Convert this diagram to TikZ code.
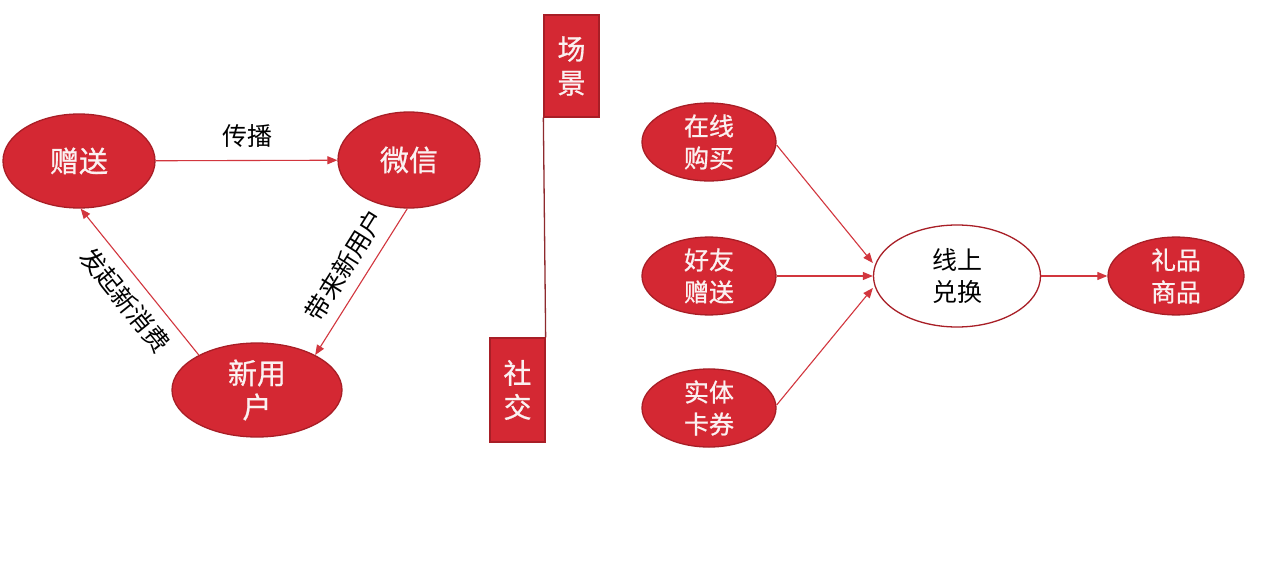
\documentclass[tikz,border=0pt]{standalone}
\usepackage{fontspec}
\setmainfont{Noto Sans CJK SC}
\newfontfamily\cjkm[FakeBold=0.8]{Noto Sans CJK SC}
\usetikzlibrary{shapes.geometric,arrows.meta}
\definecolor{rfill}{HTML}{D42833}
\definecolor{rdraw}{HTML}{A81E26}
\definecolor{rline}{HTML}{D2363E}
\definecolor{vline}{HTML}{8E2A2E}
\definecolor{wtext}{HTML}{FBF1F1}
\begin{document}
\begin{tikzpicture}[x=1pt,y=-1pt,
  redell/.style={ellipse, fill=rfill, draw=rdraw, line width=1.3pt, inner sep=0pt,
    text=wtext, align=center},
  whiteell/.style={ellipse, fill=white, draw=rdraw, line width=1.3pt, inner sep=0pt,
    text=black, align=center},
  bigtxt/.style={font=\cjkm\fontsize{29}{34}\selectfont},
  smtxt/.style={font=\cjkm\fontsize{25}{32}\selectfont},
  redbox/.style={rectangle, fill=rfill, draw=rdraw, line width=1.3pt, inner sep=0pt,
    text=wtext, align=center, font=\cjkm\fontsize{28}{34}\selectfont},
  conn/.style={draw=rline, line width=1.1pt, -{Triangle[length=10pt,width=8pt]}},
  lbl/.style={font=\fontsize{25}{28}\selectfont, text=black, inner sep=0pt}]
\useasboundingbox (0,0) rectangle (1280,588);
\fill[white] (0,0) rectangle (1280,588);

% left cycle
\node[redell, bigtxt, minimum width=152pt, minimum height=94pt] (zs) at (79,161) {赠送};
\node[redell, bigtxt, minimum width=142pt, minimum height=96pt] (wx) at (409,160) {微信};
\node[redell, bigtxt, minimum width=170pt, minimum height=94pt] (xyh) at (257,390) {新用\\户};

\draw[conn] (zs) -- (wx);
\draw[conn] (wx.-92) -- (xyh.31);
\draw[conn] (xyh.149) -- (zs.-88);

\node[lbl] (lcb) at (247,136) {传播};
\node[lbl, rotate=-51] (lfq) at (125,300) {发起新消费};
\node[lbl, rotate=58] (ldl) at (345,265) {带来新用户};

% middle
\node[redbox, minimum width=55pt, minimum height=102pt] (cj) at (571.5,66) {场\\景};
\node[redbox, minimum width=55pt, minimum height=104pt] (sj) at (517.5,390) {社\\交};
\draw[vline, line width=1.3pt] (cj.south west) -- (sj.north east);

% right
\node[redell, smtxt, minimum width=134pt, minimum height=71pt] (zx) at (709,142) {在线\\购买};
\node[redell, smtxt, minimum width=134pt, minimum height=71pt] (hy) at (709,276) {好友\\赠送};
\node[redell, smtxt, minimum width=134pt, minimum height=71pt] (st) at (709,408) {实体\\卡券};
\node[whiteell, font=\fontsize{25}{32}\selectfont, minimum width=167pt, minimum height=102pt] (xs) at (957,276) {线上\\兑换};
\node[redell, smtxt, minimum width=136pt, minimum height=76pt] (lp) at (1176,276) {礼品\\商品};

\draw[conn] (zx.east) ++(0,3) coordinate (zxo) -- (xs.west |- 0,263);
\draw[conn] (hy.east) -- (xs.west);
\draw[conn] (st.east) ++(0,-3) coordinate (sto) -- (xs.west |- 0,288);
\draw[conn] (xs) -- (lp);
\end{tikzpicture}
\end{document}
